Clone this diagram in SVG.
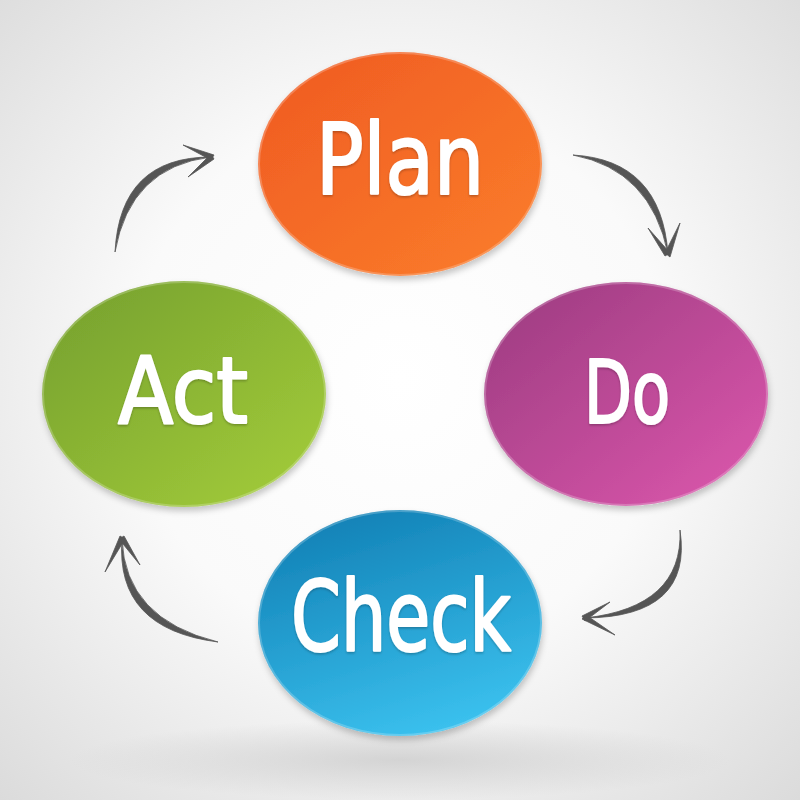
<svg xmlns="http://www.w3.org/2000/svg" width="800" height="800" viewBox="0 0 800 800">
<defs>
<radialGradient id="bg" cx="400" cy="380" r="600" gradientUnits="userSpaceOnUse">
<stop offset="0" stop-color="#ffffff"/>
<stop offset="0.45" stop-color="#fafafa"/>
<stop offset="1" stop-color="#d9d9d9"/>
</radialGradient>
<radialGradient id="floor" cx="400" cy="760" r="330" gradientUnits="userSpaceOnUse" gradientTransform="translate(0 760) scale(1 0.12) translate(0 -760)">
<stop offset="0" stop-color="#c8c8c8" stop-opacity="0.7"/>
<stop offset="1" stop-color="#c8c8c8" stop-opacity="0"/>
</radialGradient>
<linearGradient id="gPlan" x1="0" y1="0" x2="1" y2="1">
<stop offset="0" stop-color="#ef5a22"/>
<stop offset="1" stop-color="#fb7e2b"/>
</linearGradient>
<linearGradient id="gDo" x1="0" y1="0" x2="1" y2="1">
<stop offset="0" stop-color="#9a3b7f"/>
<stop offset="1" stop-color="#de58ae"/>
</linearGradient>
<linearGradient id="gCheck" x1="0.3" y1="0" x2="0.7" y2="1">
<stop offset="0" stop-color="#1281b6"/>
<stop offset="1" stop-color="#3cc3f0"/>
</linearGradient>
<linearGradient id="gAct" x1="0" y1="0" x2="1" y2="1">
<stop offset="0" stop-color="#749f2d"/>
<stop offset="1" stop-color="#a5ce3b"/>
</linearGradient>
<filter id="sh" x="-20%" y="-20%" width="140%" height="150%">
<feDropShadow dx="1" dy="4" stdDeviation="3" flood-color="#000" flood-opacity="0.22"/>
</filter>
<filter id="tsh" x="-10%" y="-10%" width="120%" height="130%">
<feDropShadow dx="0" dy="1.5" stdDeviation="0.8" flood-color="#000" flood-opacity="0.25"/>
</filter>
<style>
.lbl{font-family:"DejaVu Sans Condensed","DejaVu Sans",sans-serif;font-weight:normal;fill:#ffffff;stroke:#ffffff;stroke-width:2.2;stroke-linejoin:round;text-anchor:start;filter:url(#tsh)}
.rim{fill:none;stroke:#ffffff;stroke-opacity:0.22;stroke-width:2}
.arr{fill:#555555;stroke:#555555;stroke-width:0.8;stroke-linejoin:round}
</style>
</defs>
<rect width="800" height="800" fill="url(#bg)"/>
<ellipse cx="400" cy="760" rx="330" ry="40" fill="url(#floor)"/>

<g id="connectors">
<g id="act-plan">
<path class="arr" d="M115,252 Q120,157 211,157 Q130,167 115,252 Z"/>
<polygon class="arr" points="214,155 183,145 211,160"/>
<polygon class="arr" points="211,154 188,177 214,159"/>
</g>
<g id="plan-do">
<path class="arr" d="M573,155 Q661,160 668,254 Q651,170 573,155 Z"/>
<polygon class="arr" points="665,256 648,228 670,253"/>
<polygon class="arr" points="665,253 680,223 670,257"/>
</g>
<g id="do-check">
<path class="arr" d="M680,530 Q693,617 585,618 Q683,607 680,530 Z"/>
<polygon class="arr" points="582,616 610,602 585,621"/>
<polygon class="arr" points="582,619 615,635 586,615"/>
</g>
<g id="check-act">
<path class="arr" d="M218,642 Q115,629 122,539 Q125,619 218,642 Z"/>
<polygon class="arr" points="120,536 105,572 125,539"/>
<polygon class="arr" points="119,539 140,565 124,536"/>
</g>
</g>

<g id="plan" filter="url(#sh)">
<ellipse cx="400" cy="164" rx="142" ry="112" fill="url(#gPlan)"/>
<ellipse class="rim" cx="400" cy="164" rx="141" ry="111"/>
<text class="lbl" x="316" y="194" font-size="98" textLength="168" lengthAdjust="spacingAndGlyphs">Plan</text>
</g>
<g id="do" filter="url(#sh)">
<ellipse cx="626" cy="394" rx="142" ry="112" fill="url(#gDo)"/>
<ellipse class="rim" cx="626" cy="394" rx="141" ry="111"/>
<text class="lbl" x="584" y="423" font-size="88" textLength="86" lengthAdjust="spacingAndGlyphs">Do</text>
</g>
<g id="check" filter="url(#sh)">
<ellipse cx="400" cy="623" rx="142" ry="113" fill="url(#gCheck)"/>
<ellipse class="rim" cx="400" cy="623" rx="141" ry="112"/>
<text class="lbl" x="291" y="651" font-size="98" textLength="220" lengthAdjust="spacingAndGlyphs">Check</text>
</g>
<g id="act" filter="url(#sh)">
<ellipse cx="184" cy="394" rx="142" ry="113" fill="url(#gAct)"/>
<ellipse class="rim" cx="184" cy="394" rx="141" ry="112"/>
<text class="lbl" x="118" y="423" font-size="92" textLength="130" lengthAdjust="spacingAndGlyphs">Act</text>
</g>
</svg>
